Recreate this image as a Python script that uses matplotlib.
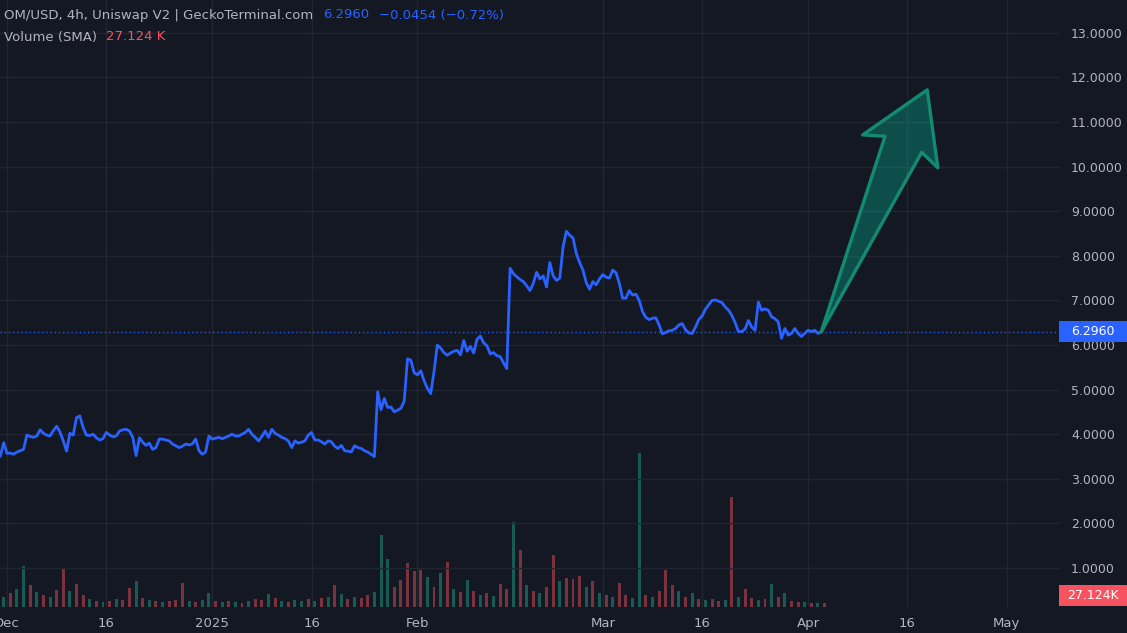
import numpy as np
import pandas as pd
import matplotlib
matplotlib.use('Agg')
import matplotlib.pyplot as plt
import matplotlib.dates as mdates
from matplotlib.patches import Polygon, Rectangle
from matplotlib.transforms import IdentityTransform, blended_transform_factory

# OM/USD closes, one value every 12h starting 2024-11-30 00:00
price_dec = [3.51, 3.81, 3.57, 3.58, 3.55, 3.60, 3.63, 3.66, 3.98, 3.95,
             3.93, 3.96, 4.10, 4.02, 3.98, 3.96, 4.08, 4.18, 4.05, 3.85,
             3.62, 4.02, 3.98, 4.37, 4.41, 4.15, 3.98, 3.97, 4.00, 3.92,
             3.87, 3.90, 4.04, 3.98, 3.94, 3.96, 4.07, 4.10, 4.11, 4.07,
             3.93, 3.52, 3.92, 3.82, 3.75, 3.80, 3.66, 3.70, 3.89, 3.89,
             3.87, 3.85, 3.78, 3.74, 3.70, 3.73, 3.78, 3.76, 3.78, 3.89]
price_jan = [3.63, 3.55, 3.60, 3.96, 3.89, 3.91, 3.93, 3.90, 3.93, 3.96,
             4.00, 3.96, 3.96, 4.00, 4.04, 4.11, 4.00, 3.93, 3.85, 3.95,
             4.07, 3.93, 4.11, 4.02, 3.98, 3.93, 3.90, 3.85, 3.70, 3.85,
             3.80, 3.82, 3.85, 3.98, 4.04, 3.87, 3.87, 3.83, 3.78, 3.85,
             3.83, 3.73, 3.68, 3.75, 3.63, 3.62, 3.60, 3.74, 3.70, 3.68,
             3.63, 3.60, 3.55, 3.50, 4.95, 4.55, 4.80, 4.60, 4.61, 4.50]
price_feb = [4.54, 4.58, 4.74, 5.69, 5.66, 5.38, 5.33, 5.42, 5.20, 5.03,
             4.91, 5.40, 6.00, 5.93, 5.83, 5.77, 5.82, 5.86, 5.88, 5.78,
             6.10, 5.86, 5.97, 5.82, 6.13, 6.20, 6.05, 5.98, 5.80, 5.83,
             5.76, 5.74, 5.60, 5.47, 7.72, 7.60, 7.53, 7.47, 7.42, 7.33,
             7.22, 7.38, 7.63, 7.48, 7.55, 7.30, 7.85, 7.55, 7.45, 7.50,
             8.20, 8.55, 8.46, 8.40, 8.05, 7.85, 7.68, 7.40, 7.25, 7.42]
price_mar = [7.35, 7.48, 7.58, 7.52, 7.50, 7.68, 7.62, 7.38, 7.05, 7.05,
             7.22, 7.12, 7.14, 7.00, 6.75, 6.62, 6.57, 6.60, 6.61, 6.45,
             6.25, 6.28, 6.32, 6.33, 6.37, 6.45, 6.48, 6.34, 6.27, 6.26,
             6.40, 6.57, 6.65, 6.80, 6.90, 7.00, 7.01, 6.98, 6.95, 6.85,
             6.78, 6.66, 6.50, 6.30, 6.30, 6.36, 6.55, 6.40, 6.33, 6.96,
             6.78, 6.81, 6.78, 6.63, 6.59, 6.52, 6.15, 6.37, 6.22, 6.26,
             6.37, 6.26, 6.19, 6.26, 6.33, 6.30, 6.33, 6.26, 6.296]

# daily volume in thousands, starting 2024-11-30
volume_k = [23, 32, 41, 94, 51, 35, 28, 23, 39, 87, 37, 53, 28, 18, 14, 12, 14, 18, 16, 44,
            60, 21, 16, 14, 12, 14, 16, 55, 14, 12, 16, 32, 14, 12, 14, 12, 9, 14, 18, 16,
            30, 21, 14, 12, 16, 14, 18, 14, 21, 23, 51, 30, 18, 23, 21, 28, 35, 166, 110, 46,
            62, 101, 83, 85, 69, 46, 78, 104, 41, 35, 62, 37, 28, 32, 25, 53, 41, 196, 131, 51,
            37, 32, 46, 120, 60, 67, 64, 71, 46, 60, 32, 28, 23, 55, 28, 21, 354, 28, 23, 37,
            85, 51, 37, 23, 32, 18, 16, 18, 14, 16, 253, 23, 41, 21, 16, 18, 53, 23, 32, 14,
            12, 12, 9, 9, 9]
# up (u) / down (d) colour of each volume bar, ten days per chunk
volume_dir = ['uduudududd', 'uddudududd', 'udududddud', 'uududududd',
              'ududuududu', 'dududduuud', 'ddddududud', 'udududdudu',
              'duddudddud', 'ududduudud', 'ddudududdu', 'duddududud',
              'dudud']

last_price = 6.2960
change = -0.0454
change_pct = -0.72
vol_sma = 27.124
arrow_tip_date = '2025-04-19'
arrow_tip_price = 11.72

y_ticks = np.arange(1, 14)
x_tick_dates = ['2024-12-01', '2024-12-16', '2025-01-01', '2025-01-16', '2025-02-01',
                '2025-03-01', '2025-03-16', '2025-04-01', '2025-04-16', '2025-05-01']
x_tick_labels = ['Dec', '16', '2025', '16', 'Feb', 'Mar', '16', 'Apr', '16', 'May']

BG = '#141823'
GRID = '#222632'
TXT = '#b2b5be'
BLUE = '#2962ff'
RED = '#f7525f'
GREEN = '#22ab94'
W, H = 1127, 633

price = np.array(price_dec + price_jan + price_feb + price_mar)
times = pd.date_range('2024-11-30 00:00', periods=len(price), freq='12h')
vol = np.array(volume_k)
vol_days = pd.date_range('2024-11-30 12:00', periods=len(vol), freq='D')
dirs = ''.join(volume_dir)
vol_colors = [GREEN if c == 'u' else RED for c in dirs]

fig = plt.figure(figsize=(W / 100, H / 100), dpi=100, facecolor=BG)
ax = fig.add_axes([0, 26 / H, 1060 / W, 607 / H])
ax2 = ax.twinx()
ax.set_zorder(2)
ax2.set_zorder(1)
ax.patch.set_visible(False)
ax2.patch.set_visible(False)

# volume pane
ax2.bar(vol_days, vol, width=0.45, color=vol_colors, alpha=0.45, linewidth=0)
ax2.set_ylim(0, 1396)
ax2.set_yticks([])

# price
ax.plot(times, price, color=BLUE, lw=2.0, zorder=3, solid_joinstyle='round')
ax.axhline(last_price, color=BLUE, lw=1, ls=(0, (1, 2)), alpha=0.9, zorder=2)

d0 = mdates.date2num(pd.Timestamp('2024-12-01'))
ax.set_xlim(d0 - 7 / 6.62, d0 + 1053 / 6.62)
ax.set_ylim(0.126, 13.735)
ax.set_yticks(y_ticks)
ax.set_yticklabels([f'{v:.4f}' for v in y_ticks])
ax.set_xticks([mdates.date2num(pd.Timestamp(d)) for d in x_tick_dates])
ax.set_xticklabels(x_tick_labels)
ax.yaxis.tick_right()
ax.tick_params(axis='y', length=0, pad=8, labelcolor=TXT, labelsize=9)
ax.tick_params(axis='x', length=0, pad=7, labelcolor=TXT, labelsize=9.5)
ax.grid(True, color=GRID, lw=1)
ax.set_axisbelow(True)
for a in (ax, ax2):
    for s in a.spines.values():
        s.set_visible(False)

# arrow from the last close to the target
tail = ax.transData.transform((mdates.date2num(times[-1]), price[-1]))
tip = ax.transData.transform((mdates.date2num(pd.Timestamp(arrow_tip_date)), arrow_tip_price))
vec = tip - tail
L = np.hypot(*vec)
u = vec / L
n = np.array([-u[1], u[0]])
verts = [tail,
         tail + 0.775 * L * u + 20 * n,
         tail + 0.746 * L * u + 41 * n,
         tip,
         tail + 0.746 * L * u - 41 * n,
         tail + 0.775 * L * u - 20 * n]
fig.add_artist(Polygon(verts, closed=True, transform=IdentityTransform(),
                       facecolor='#089981', alpha=0.42, edgecolor='none', zorder=5))
fig.add_artist(Polygon(verts, closed=True, transform=IdentityTransform(),
                       facecolor='none', edgecolor='#138a72', lw=2.4,
                       joinstyle='round', zorder=6))

# last value labels on the price scale
ppu = ax.transData.transform((0, 1))[1] - ax.transData.transform((0, 0))[1]
tr = blended_transform_factory(fig.transFigure, ax.transData)
fig.add_artist(Rectangle((1059 / W, last_price - 10.5 / ppu), 68 / W, 21 / ppu,
                         transform=tr, facecolor=BLUE, edgecolor='none', zorder=7))
fig.text(1093 / W, last_price, f'{last_price:.4f}', transform=tr, color='white',
         fontsize=9, ha='center', va='center', zorder=8)

vpu = ax2.transData.transform((0, 1))[1] - ax2.transData.transform((0, 0))[1]
tr2 = blended_transform_factory(fig.transFigure, ax2.transData)
fig.add_artist(Rectangle((1059 / W, vol_sma - 10.5 / vpu), 68 / W, 21 / vpu,
                         transform=tr2, facecolor=RED, edgecolor='none', zorder=7))
fig.text(1093 / W, vol_sma, f'{vol_sma:.3f}K', transform=tr2, color='white',
         fontsize=9, ha='center', va='center', zorder=8)

# legend rows at the top left
renderer = fig.canvas.get_renderer()


def put_row(items, x0, y0):
    x = x0
    for s, c, gap in items:
        t = fig.text(x / W, 1 - y0 / H, s, color=c, fontsize=9.5, ha='left', va='center')
        x = t.get_window_extent(renderer=renderer).x1 + gap


chg = f'{change:.4f} ({change_pct:.2f}%)'.replace('-', '\u2212')
put_row([('OM/USD, 4h, Uniswap V2 | GeckoTerminal.com', TXT, 10),
         (f'{last_price:.4f}', BLUE, 10),
         (chg, BLUE, 0)], 4, 15)
put_row([('Volume (SMA)', TXT, 9),
         (f'{vol_sma:.3f} K', RED, 0)], 4, 37)

fig.savefig('out.png', dpi=100, facecolor=BG)
